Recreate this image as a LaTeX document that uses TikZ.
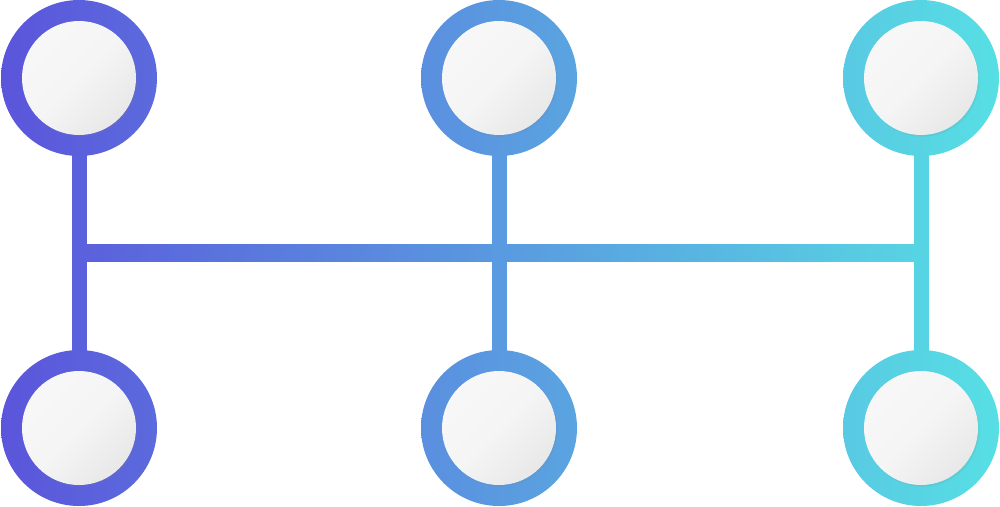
\documentclass[tikz,border=0pt]{standalone}
\usetikzlibrary{calc,shadows}
\definecolor{hubL}{HTML}{5B55DB}
\definecolor{hubM}{HTML}{5A9AE0}
\definecolor{hubR}{HTML}{57DFE4}
\def\hubring(#1)[#2][#3]{\shade[left color=#2, right color=#3] (#1) circle (78);
	\shade[drop shadow={shadow xshift=1pt, shadow yshift=-1.3pt, opacity=0.13}, top color=white!97!black, bottom color=black!9, middle color=white!96!black, shading angle=45] (#1) circle (57);}

\begin{document}
\begin{tikzpicture}[x=0.25mm, y=0.25mm]
		%%%%% START %%%%%
		\useasboundingbox (0, 0) rectangle (1000, 506);
		
		\coordinate (tl) at (79, 428);
		\coordinate (bl) at (79, 78);
		\coordinate (tm) at (499, 428);
		\coordinate (bm) at (499, 78);
		\coordinate (tr) at (921, 428);
		\coordinate (br) at (921, 78);
		\coordinate (barL) at (79, 253);
		\coordinate (barR) at (921, 253);
		
		\shade[left color=hubM!16!hubL, right color=hubR!84!hubM] ($(barL)+(0,-8.5)$) rectangle ($(barR)+(0,8.5)$);
		
		\fill[color=hubM!16!hubL] ($(tl)+(-7.5,0)$) rectangle ($(bl)+(7.5,0)$);
		\fill[color=hubM] ($(tm)+(-7.5,0)$) rectangle ($(bm)+(7.5,0)$);
		\fill[color=hubR!84!hubM] ($(tr)+(-7.5,0)$) rectangle ($(br)+(7.5,0)$);
		
		\hubring(tl)[hubL][hubM!31!hubL]
		\hubring(bl)[hubL][hubM!31!hubL]
		\hubring(tm)[hubM!84!hubL][hubR!15!hubM]
		\hubring(bm)[hubM!84!hubL][hubR!15!hubM]
		\hubring(tr)[hubR!69!hubM][hubR]
		\hubring(br)[hubR!69!hubM][hubR]
		
		%%%%% END %%%%%
	\end{tikzpicture}
\end{document}
